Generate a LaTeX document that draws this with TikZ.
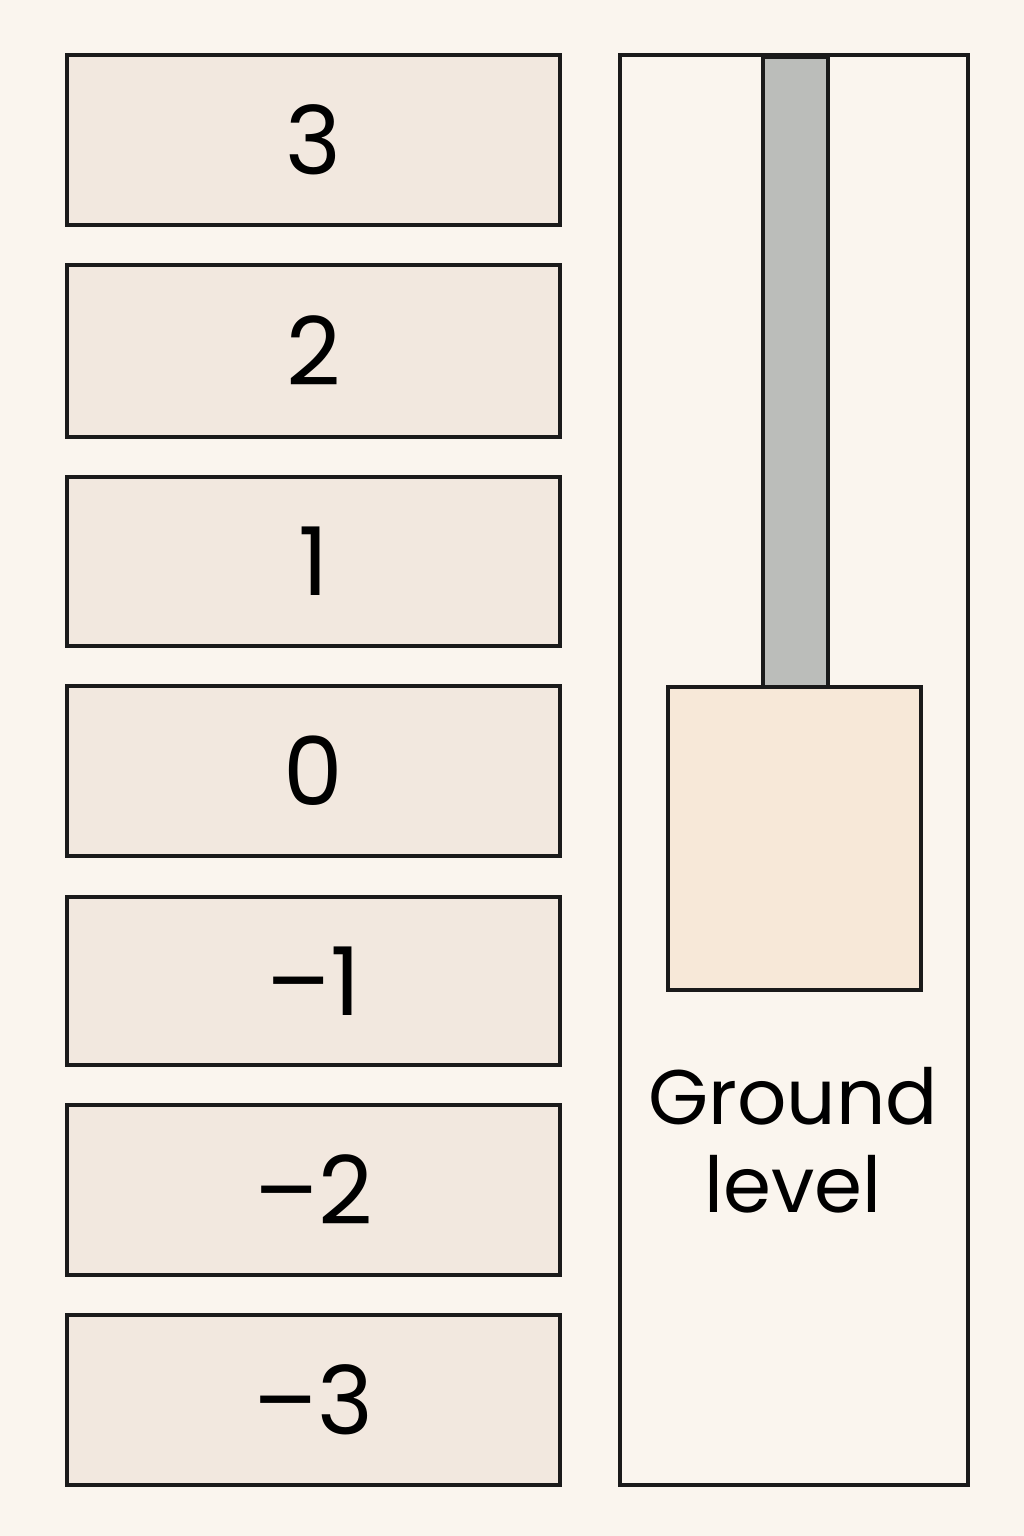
\documentclass[tikz,border=0pt]{standalone}
\usepackage{fontspec}
\setmainfont{Poppins}
\definecolor{bg}{HTML}{FAF5EE}
\definecolor{boxfill}{HTML}{F2E8DF}
\definecolor{bar}{HTML}{BBBDBA}
\definecolor{car}{HTML}{F7E8D8}
\definecolor{ink}{HTML}{1A1A1A}
\tikzset{
  px/.style={x=0.02cm,y=-0.02cm},
  frame/.style={draw=ink,line width=2pt},
  floorlabel/.style={font=\fontsize{54}{60}\selectfont,inner sep=0pt},
}
\begin{document}
\begin{tikzpicture}[px]
\fill[bg] (0,0) rectangle (1024,1536);
\useasboundingbox (0,0) rectangle (1024,1536);
\foreach \lab/\yt/\yb [count=\i] in {3/55/225,2/265/437,1/477/646,0/686/856,–1/897/1065,–2/1105/1275,–3/1315/1485}{
  \draw[frame,fill=boxfill] (67,\yt) rectangle (560,\yb);
  \node[floorlabel] (f\i) at (313.5,{(\yt+\yb)/2}) {\lab};
}
\draw[frame,fill=bg] (620,55) rectangle (968,1485);
\draw[frame,fill=bar] (763,57) rectangle (828,687);
\draw[frame,fill=car] (668,687) rectangle (921,990);
\node[font=\fontsize{44}{50}\selectfont,align=center,inner sep=0pt] (gl) at (793,1140) {Ground\\level};
\end{tikzpicture}
\end{document}
